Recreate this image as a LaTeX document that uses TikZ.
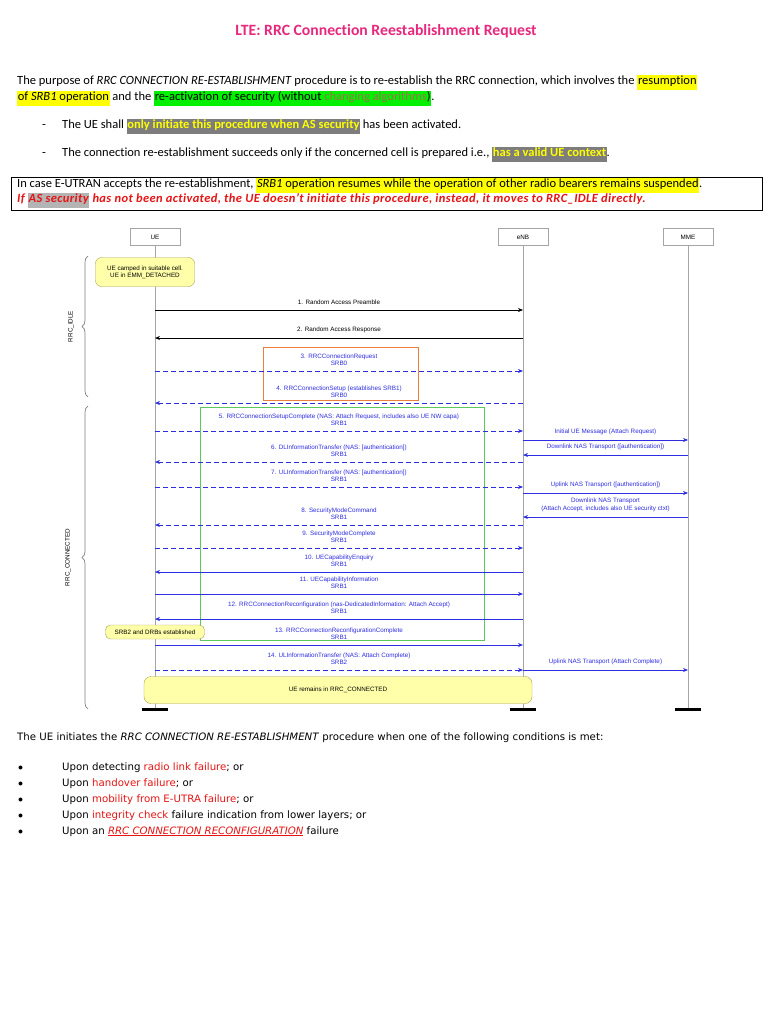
\documentclass[tikz,border=0pt]{standalone}
\usepackage{fontspec}
\setmainfont{Carlito}[Ligatures={TeX,NoCommon}]
\newfontfamily\diagfont{Liberation Sans}
\newfontfamily\listfont{DejaVu Sans}
\usetikzlibrary{arrows.meta,positioning,calc,decorations.pathreplacing}
\definecolor{titlepink}{RGB}{232,40,125}
\definecolor{msgblue}{RGB}{45,45,225}
\definecolor{lifegray}{RGB}{165,165,165}
\definecolor{bracegray}{RGB}{130,130,130}
\definecolor{noteyellow}{RGB}{255,255,170}
\definecolor{noteedge}{RGB}{170,160,80}
\definecolor{boxorange}{RGB}{240,125,60}
\definecolor{boxgreen}{RGB}{90,200,90}
\definecolor{hlyellow}{RGB}{255,255,0}
\definecolor{hlgreen}{RGB}{0,240,0}
\definecolor{hlgray}{RGB}{125,125,125}
\definecolor{hllight}{RGB}{180,180,180}
\definecolor{algbrown}{RGB}{155,115,75}
\definecolor{failred}{RGB}{230,20,20}
\newcommand\hlyel[1]{{\setlength{\fboxsep}{0.6pt}\colorbox{hlyellow}{\strut #1}}}
\newcommand\hlgrn[1]{{\setlength{\fboxsep}{0.6pt}\colorbox{hlgreen}{\strut #1}}}
\newcommand\hlgry[1]{{\setlength{\fboxsep}{0.6pt}\colorbox{hlgray}{\strut\color{hlyellow}\bfseries #1}}}
\newcommand\hllgt[1]{{\setlength{\fboxsep}{0.6pt}\colorbox{hllight}{\strut #1}}}

\begin{document}
\begin{tikzpicture}[x=1pt,y=-1pt,
  txt/.style={anchor=base west,inner sep=0pt,font=\fontsize{12.5}{14}\selectfont},
  lst/.style={anchor=base west,inner sep=0pt,font=\listfont\fontsize{10.2}{12}\selectfont},
  dg/.style={font=\diagfont\fontsize{6.3}{7.3}\selectfont},
  actor/.style={dg,draw=lifegray,fill=white,minimum width=50pt,minimum height=17pt,inner sep=0pt},
  life/.style={draw=lifegray,line width=0.8pt},
  endbar/.style={line width=3pt},
  note/.style={dg,draw=noteedge,fill=noteyellow,rounded corners=6pt,align=center,inner sep=2pt},
  lbl/.style={dg,midway,above,yshift=3.5pt,align=center,inner sep=1.5pt,text=msgblue},
  rawmsg/.style={line width=0.8pt,-{Stealth[length=5pt,width=4pt]}},
  dmsg/.style={draw=msgblue,line width=0.8pt,dash pattern=on 5pt off 3pt,-{Stealth[length=5pt,width=4pt]}},
  smsg/.style={draw=msgblue,line width=0.8pt,-{Stealth[length=5pt,width=4pt]}},
  brc/.style={draw=bracegray,line width=0.7pt,decorate,decoration={brace,amplitude=6pt}}]
\fill[white] (0,0) rectangle (768,1024);
\useasboundingbox (0,0) rectangle (768,1024);

% page text
\node[font=\fontsize{15.7}{18}\selectfont\bfseries,text=titlepink] (title) at (386,31) {LTE: RRC Connection Reestablishment Request};
\node[txt] (par1) at (17,85) {The purpose of \textit{RRC CONNECTION RE-ESTABLISHMENT} procedure is to re-establish the RRC connection, which involves the \hlyel{resumption}};
\node[txt] (par2) at (17,101) {\hlyel{of \textit{SRB1} operation} and the \hlgrn{re-activation of security (without {\color{algbrown}changing algorithms})}.};
\node[txt] (dash1) at (42,129) {-};
\node[txt] (item1) at (62,129) {The UE shall \hlgry{only initiate this procedure when AS security} has been activated.};
\node[txt] (dash2) at (42,157) {-};
\node[txt] (item2) at (62,157) {The connection re-establishment succeeds only if the concerned cell is prepared i.e., \hlgry{has a valid UE context}.};
\draw (11,177) rectangle (762,210);
\node[txt] (note1) at (17,188) {In case E-UTRAN accepts the re-establishment, \hlyel{\textit{SRB1} operation resumes while the operation of other radio bearers remains suspended}.};
\node[txt,text=failred,font=\fontsize{12.5}{14}\selectfont\bfseries\itshape\addfontfeatures{LetterSpace=3}] (note2) at (17,203) {If \hllgt{AS security} has not been activated, the UE doesn't initiate this procedure, instead, it moves to RRC\_IDLE directly.};

% sequence chart
\node[actor] (ue) at (155,237) {UE};
\node[actor] (enb) at (523,237) {eNB};
\node[actor] (mme) at (688,237) {MME};
\coordinate (ueend) at (155,709);
\coordinate (enbend) at (523,709);
\coordinate (mmeend) at (688,709);
\foreach \a/\b in {ue/ueend,enb/enbend,mme/mmeend} {
  \draw[life] (\a) -- (\b);
  \draw[endbar] ($(\b)+(-13,0)$) -- ($(\b)+(13,0)$);
}
\draw[brc] (88,397) -- (88,256) node[dg,midway,xshift=-17pt,rotate=90] (idle) {RRC\_IDLE};
\draw[brc] (88,709) -- (88,406) node[dg,midway,xshift=-20pt,rotate=90] (conn) {RRC\_CONNECTED};
\node[note,minimum width=99pt,minimum height=29pt] (camp) at (145,272) {UE camped in suitable cell.\\UE in EMM\_DETACHED};
\draw[boxorange,line width=0.9pt] (263,347) rectangle (418,400);
\draw[boxgreen,line width=0.9pt] (200,407) rectangle (484,640);

\foreach \y/\a/\b/\t in {310/ue/enb/{1. Random Access Preamble},338/enb/ue/{2. Random Access Response}}
  \draw[rawmsg] (\a |- 0,\y) -- node[lbl,text=black] {\t} (\b |- 0,\y);
\foreach \y/\a/\b/\t in {371/ue/enb/{3. RRCConnectionRequest\\SRB0},
  403/enb/ue/{4. RRCConnectionSetup (establishes SRB1)\\SRB0},
  431/ue/enb/{5. RRCConnectionSetupComplete (NAS: Attach Request, includes also UE NW capa)\\SRB1},
  462/enb/ue/{6. DLInformationTransfer (NAS: [authentication])\\SRB1},
  487/ue/enb/{7. ULInformationTransfer (NAS: [authentication])\\SRB1},
  525/enb/ue/{8. SecurityModeCommand\\SRB1},
  548/ue/enb/{9. SecurityModeComplete\\SRB1},
  670/ue/enb/{14. ULInformationTransfer (NAS: Attach Complete)\\SRB2}}
  \draw[dmsg] (\a |- 0,\y) -- node[lbl] {\t} (\b |- 0,\y);
\foreach \y/\a/\b/\t in {572/enb/ue/{10. UECapabilityEnquiry\\SRB1},
  594/ue/enb/{11. UECapabilityInformation\\SRB1},
  619/enb/ue/{12. RRCConnectionReconfiguration (nas-DedicatedInformation: Attach Accept)\\SRB1},
  645/ue/enb/{13. RRCConnectionReconfigurationComplete\\SRB1},
  440/enb/mme/{Initial UE Message (Attach Request)},
  455/mme/enb/{Downlink NAS Transport ([authentication])},
  493/enb/mme/{Uplink NAS Transport ([authentication])},
  517/mme/enb/{Downlink NAS Transport\\(Attach Accept, includes also UE security ctxt)},
  670/enb/mme/{Uplink NAS Transport (Attach Complete)}}
  \draw[smsg] (\a |- 0,\y) -- node[lbl] {\t} (\b |- 0,\y);

\node[note,minimum width=99pt,minimum height=14pt,rounded corners=5pt] (srb2) at (155,632) {SRB2 and DRBs established};
\node[note,minimum width=388pt,minimum height=27pt,rounded corners=7pt] (remain) at (338,690) {UE remains in RRC\_CONNECTED};

% conditions
\node[lst] (cond) at (17,740) {The UE initiates the \textit{RRC CONNECTION RE-ESTABLISHMENT} procedure when one of the following conditions is met:};
\foreach \y/\t [count=\i] in {770/{Upon detecting {\color{failred}radio link failure}; or},
  786/{Upon {\color{failred}handover failure}; or},
  802/{Upon {\color{failred}mobility from E-UTRA failure}; or},
  818/{Upon {\color{failred}integrity check} failure indication from lower layers; or},
  834/{Upon an {\color{failred}\underline{\textit{RRC CONNECTION RECONFIGURATION}}} failure}} {
  \node[lst] (dot\i) at (18,\y) {$\bullet$};
  \node[lst] (item\i) at (62,\y) {\t};
}
\end{tikzpicture}
\end{document}
